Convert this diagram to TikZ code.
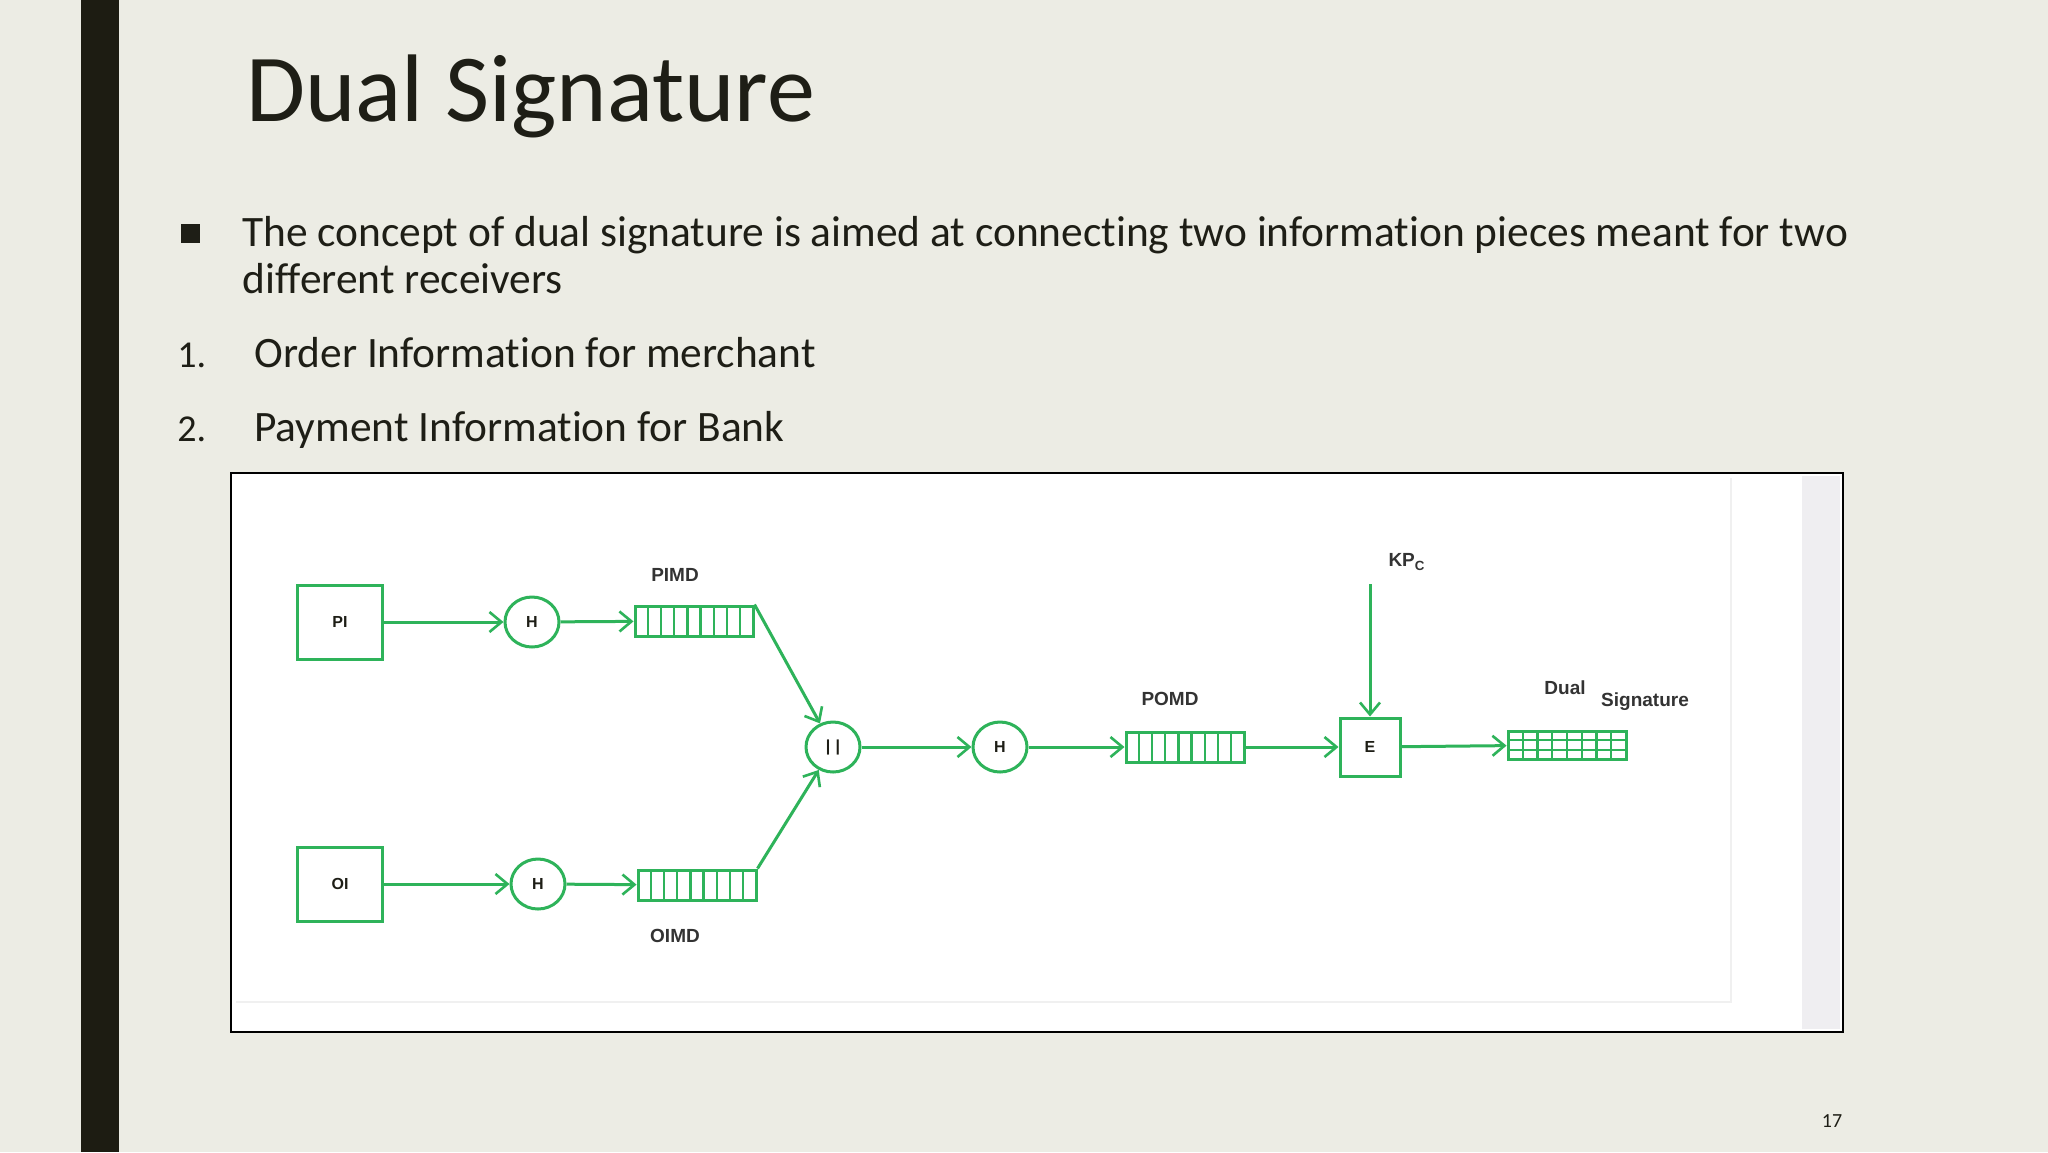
\documentclass[tikz,border=0pt]{standalone}
\usepackage{fontspec}
\setmainfont{Carlito}[Ligatures=NoCommon]
\setsansfont{Liberation Sans}
\usetikzlibrary{arrows.meta,shapes.geometric,calc}
\definecolor{slidebg}{HTML}{ECECE4}
\definecolor{slidebar}{HTML}{1D1C12}
\definecolor{ink}{HTML}{1E1E16}
\definecolor{sgreen}{HTML}{2EB35A}
\definecolor{stripgray}{HTML}{EFEEF1}

\begin{document}
\begin{tikzpicture}[x=0.5pt,y=-0.5pt,
  every node/.style={inner sep=0pt, text=ink},
  blk/.style={draw=sgreen, line width=1.5pt, fill=white, minimum width=42.5pt, minimum height=37pt,
    font=\sffamily\bfseries\fontsize{8}{8}\selectfont},
  hsh/.style={draw=sgreen, line width=1.5pt, ellipse, fill=white, minimum width=27pt, minimum height=25pt,
    font=\sffamily\bfseries\fontsize{8}{8}\selectfont},
  md/.style={draw=sgreen, line width=1.5pt, minimum width=59pt, minimum height=15pt,
    path picture={\foreach \k in {1,...,8}
      \draw[sgreen, line width=1.1pt] ($(path picture bounding box.south west)!\k/9!(path picture bounding box.south east)$)
        -- ($(path picture bounding box.north west)!\k/9!(path picture bounding box.north east)$);}},
  dsg/.style={draw=sgreen, line width=1.5pt, minimum width=59pt, minimum height=14pt,
    path picture={\foreach \k in {1,...,7}
      \draw[sgreen, line width=1.1pt] ($(path picture bounding box.south west)!\k/8!(path picture bounding box.south east)$)
        -- ($(path picture bounding box.north west)!\k/8!(path picture bounding box.north east)$);
      \foreach \k in {1,2}
      \draw[sgreen, line width=1.1pt] ($(path picture bounding box.south west)!\k/3!(path picture bounding box.north west)$)
        -- ($(path picture bounding box.south east)!\k/3!(path picture bounding box.north east)$);}},
  lbl/.style={font=\sffamily\bfseries\fontsize{9.5}{10}\selectfont, text=black!80},
  body/.style={anchor=base west, font=\fontsize{21.7}{26}\selectfont},
  num/.style={anchor=base west, font=\fontsize{19}{22}\selectfont},
  flow/.style={draw=sgreen, line width=1.5pt, -{Straight Barb[length=6pt, width=10pt, line width=1.3pt]}}
]
\fill[slidebg] (0,0) rectangle (2048,1152);
\fill[slidebar] (81,0) rectangle (119,1152);

\node[anchor=base west, font=\fontsize{48}{52}\selectfont] (title) at (246,121) {Dual Signature};

\node[fill=ink, minimum size=9.5pt] (bul) at (190,233) {};
\node[body] (l1) at (242,246) {The concept of dual signature is aimed at connecting two information pieces meant for two};
\node[body] (l2) at (242,293) {different receivers};
\node[num] (n1) at (177,367) {1.};
\node[body] (i1) at (254,367) {Order Information for merchant};
\node[num] (n2) at (177,441) {2.};
\node[body] (i2) at (254,441) {Payment Information for Bank};

\draw[line width=1.4pt, fill=white] (231,473) rectangle (1843,1032);
\fill[stripgray] (1802,476) rectangle (1840,1029);
\draw[black!6, line width=1pt] (1731,478) -- (1731,1002) -- (236,1002);

\node[blk] (pi) at (340,622) {PI};
\node[hsh] (hpi) at (532,622) {H};
\node[md] (pimd) at (694,621) {};
\node[lbl] (pimdl) at (675,575) {PIMD};

\node[blk] (oi) at (340,884) {OI};
\node[hsh] (hoi) at (538,884) {H};
\node[md] (oimd) at (697,885) {};
\node[lbl] (oimdl) at (675,936) {OIMD};

\node[hsh] (cat) at (833,747) {|\,\,|};
\node[hsh] (hpo) at (1000,747) {H};
\node[md] (pomd) at (1185,747) {};
\node[lbl] (pomdl) at (1170,699) {POMD};
\node[blk, minimum width=30pt, minimum height=29pt] (enc) at (1370,747) {E};
\coordinate (kp) at (1370,584);
\node[lbl] (kpl) at (1407,562) {KP\textsubscript{C}};
\node[dsg] (ds) at (1567,745) {};
\node[lbl] (dsl1) at (1565,688) {Dual};
\node[lbl] (dsl2) at (1645,702) {Signature};

\draw[flow] (pi) -- (hpi);
\draw[flow] (hpi) -- (pimd);
\draw[flow] (oi) -- (hoi);
\draw[flow] (hoi) -- (oimd);
\draw[flow] (pimd.north east) -- (cat);
\draw[flow] (oimd.north east) -- (cat);
\draw[flow] (cat) -- (hpo);
\draw[flow] (hpo) -- (pomd);
\draw[flow] (pomd) -- (enc);
\draw[flow] (kp) -- (enc);
\draw[flow] (enc) -- (ds);

\node[font=\fontsize{10}{12}\selectfont] (pg) at (1832,1121) {17};
\end{tikzpicture}
\end{document}
